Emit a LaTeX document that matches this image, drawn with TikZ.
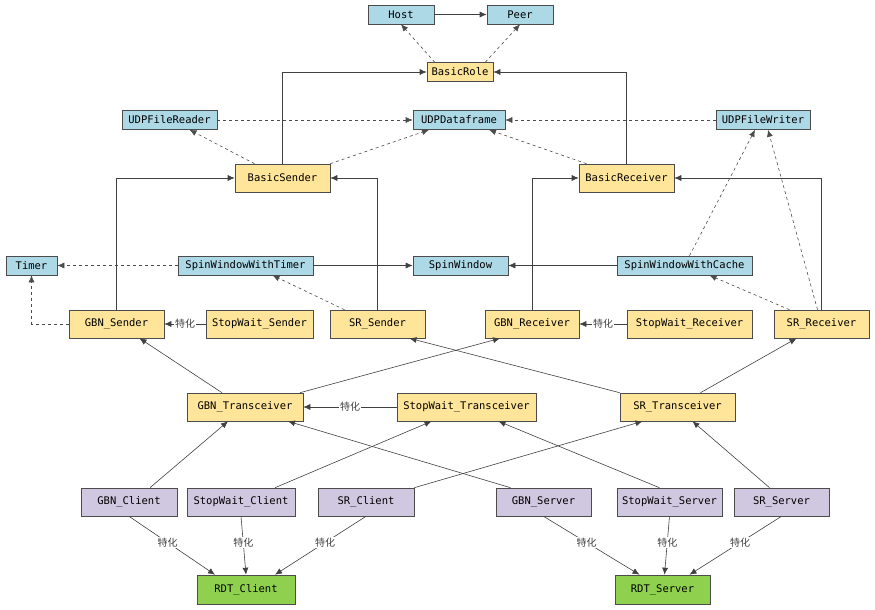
\documentclass[tikz,border=0pt]{standalone}
\usepackage{fontspec}
\setmainfont{DejaVu Sans Mono}
\newfontfamily\cjk{Noto Sans CJK SC}
\usetikzlibrary{arrows.meta}
\definecolor{cblue}{HTML}{ADD8E6}
\definecolor{cyel}{HTML}{FFE599}
\definecolor{cpur}{HTML}{D0C8E0}
\definecolor{cgrn}{HTML}{8FD14F}
\begin{document}
\begin{tikzpicture}[x=1pt,y=-1pt,
  box/.style={draw=black!70,line width=0.6pt,inner sep=0pt,font=\fontsize{10.5}{12}\selectfont},
  sb/.style={box,fill=cblue,minimum height=19pt},
  yb/.style={box,fill=cyel,minimum height=28pt},
  pb/.style={box,fill=cpur,minimum height=28pt},
  gb/.style={box,fill=cgrn,minimum height=29pt},
  ar/.style={-{Latex[length=7pt,width=6pt]},black!75,line width=0.6pt},
  da/.style={ar,dashed,black!70},
  tl/.style={fill=white,inner sep=1pt,font=\cjk\fontsize{10}{12}\selectfont}]
\useasboundingbox (0,0) rectangle (875,610);
\node[sb,minimum width=66pt] (host) at (401,14.5) {Host};
\node[sb,minimum width=66pt] (peer) at (520,14.5) {Peer};
\node[sb,fill=cyel,minimum width=66pt] (role) at (460,72) {BasicRole};
\node[sb,minimum width=95pt] (rd) at (169.5,120) {UDPFileReader};
\node[sb,minimum width=92pt] (df) at (459,120) {UDPDataframe};
\node[sb,minimum width=94pt] (wr) at (763,120) {UDPFileWriter};
\node[yb,minimum width=95pt] (bs) at (282.5,178) {BasicSender};
\node[yb,minimum width=95pt] (br) at (626.5,178) {BasicReceiver};
\node[sb,minimum width=51pt] (tm) at (31.5,265.5) {Timer};
\node[sb,minimum width=135pt] (swt) at (245.5,265.5) {SpinWindowWithTimer};
\node[sb,minimum width=95pt] (sw) at (460.5,265.5) {SpinWindow};
\node[sb,minimum width=135pt] (swc) at (684.5,265.5) {SpinWindowWithCache};
\node[yb,minimum width=95pt] (gs) at (116.5,324) {GBN\_Sender};
\node[yb,minimum width=107pt] (ss) at (259.5,324) {StopWait\_Sender};
\node[yb,minimum width=95pt] (rs) at (377.5,324) {SR\_Sender};
\node[yb,minimum width=94pt] (gr) at (532,324) {GBN\_Receiver};
\node[yb,minimum width=125pt] (sr) at (689.5,324) {StopWait\_Receiver};
\node[yb,minimum width=95pt] (rr) at (821.5,324) {SR\_Receiver};
\node[yb,minimum width=116pt] (gt) at (245,407) {GBN\_Transceiver};
\node[yb,minimum width=139pt] (st) at (466.5,407) {StopWait\_Transceiver};
\node[yb,minimum width=115pt] (rt) at (677.5,407) {SR\_Transceiver};
\node[pb,minimum width=96pt] (gc) at (129,502) {GBN\_Client};
\node[pb,minimum width=108pt] (sc) at (241,502) {StopWait\_Client};
\node[pb,minimum width=96pt] (rc) at (366,502) {SR\_Client};
\node[pb,minimum width=95pt] (gv) at (543.5,502) {GBN\_Server};
\node[pb,minimum width=105pt] (sv) at (669.5,502) {StopWait\_Server};
\node[pb,minimum width=95pt] (rv) at (781.5,502) {SR\_Server};
\node[gb,minimum width=98pt] (rdc) at (246,589.5) {RDT\_Client};
\node[gb,minimum width=95pt] (rds) at (662.5,589.5) {RDT\_Server};
% top
\draw[ar] (host) -- (peer);
\draw[da] (role.north west) ++(8,0) -- (host.south);
\draw[da] (role.north east) ++(-8,0) -- (peer.south);
\draw[ar] (bs.north) |- (role.west);
\draw[ar] (br.north) |- (role.east);
\draw[da] (rd) -- (df);
\draw[da] (wr) -- (df);
\draw[da] ([xshift=-28pt]bs.north) -- ([xshift=20pt]rd.south);
\draw[da] (bs.north east) -- ([xshift=-30pt]df.south);
\draw[da] ([xshift=-40pt]br.north) -- ([xshift=30pt]df.south);
\draw[ar] (gs.north) |- (bs.west);
\draw[ar] (rs.north) |- (bs.east);
\draw[ar] (gr.north) |- (br.west);
\draw[ar] (rr.north) |- (br.east);
\draw[da] (swt) -- (tm);
\draw[ar] (swt) -- (sw);
\draw[ar] (swc) -- (sw);
\draw[da] ([xshift=5pt]swc.north) -- ([xshift=-8pt]wr.south);
\draw[da] ([xshift=-4pt]rr.north) -- ([xshift=5pt]wr.south);
\draw[da] ([xshift=-32pt]rr.north) -- ([xshift=25pt]swc.south);
\draw[da] ([xshift=-33pt]rs.north) -- ([xshift=27pt]swt.south);
\draw[da] (gs.west) -| (tm.south);
\draw[ar] (ss) -- node[tl]{特化} (gs);
\draw[ar] (sr) -- node[tl]{特化} (gr);
\draw[ar] (st) -- node[tl]{特化} (gt);
\draw[ar] ([xshift=-23pt]gt.north) -- ([xshift=23pt]gs.south);
\draw[ar] ([xshift=55pt]gt.north) -- ([xshift=-32pt]gr.south);
\draw[ar] (rt.north west) -- ([xshift=32pt]rs.south);
\draw[ar] ([xshift=23pt]rt.north) -- ([xshift=-25pt]rr.south);
\draw[ar] ([xshift=21pt]gc.north) -- ([xshift=-17pt]gt.south);
\draw[ar] ([xshift=34pt]sc.north) -- ([xshift=-35pt]st.south);
\draw[ar] (rc.north east) -- ([xshift=-35pt]rt.south);
\draw[ar] ([xshift=-33pt]gv.north) -- ([xshift=43pt]gt.south);
\draw[ar] ([xshift=-10pt]sv.north) -- ([xshift=32pt]st.south);
\draw[ar] ([xshift=-12pt]rv.north) -- ([xshift=15pt]rt.south);
\draw[ar] (gc.south) -- node[tl,pos=0.45]{特化} ([xshift=-31pt]rdc.north);
\draw[ar] (sc.south) -- node[tl,pos=0.45]{特化} (rdc.north);
\draw[ar] (rc.south) -- node[tl,pos=0.45]{特化} ([xshift=29pt]rdc.north);
\draw[ar] (gv.south) -- node[tl,pos=0.45]{特化} ([xshift=-23pt]rds.north);
\draw[ar] (sv.south) -- node[tl,pos=0.45]{特化} ([xshift=2pt]rds.north);
\draw[ar] (rv.south) -- node[tl,pos=0.45]{特化} ([xshift=27pt]rds.north);
\end{tikzpicture}
\end{document}
